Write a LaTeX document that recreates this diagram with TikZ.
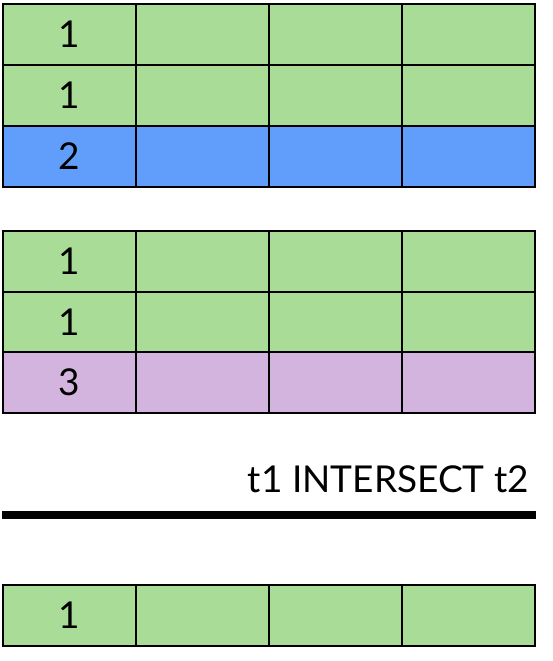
\documentclass[tikz,border=0pt]{standalone}
\usepackage{fontspec}
\setmainfont{Lato}
\definecolor{cgreen}{HTML}{A9DC96}
\definecolor{cblue}{HTML}{619EFB}
\definecolor{cpurple}{HTML}{D2B4DE}
\begin{document}
\begin{tikzpicture}[x=1pt,y=-1pt,
  cell/.style={draw=black,line width=2pt,outer sep=0pt,minimum width=133pt,minimum height=#1,inner sep=0pt,anchor=north west,font=\fontsize{37}{40}\selectfont},
  cell/.default=61pt,
]
\useasboundingbox (0,0) rectangle (553,661);
% table 1
\foreach \r/\y/\c/\v in {a/4/cgreen/1,b/65/cgreen/1,c/126/cblue/2}{
  \node[cell,fill=\c] (t1\r0) at (3,\y) {\v};
  \node[cell,fill=\c] (t1\r1) at (136,\y) {};
  \node[cell,fill=\c] (t1\r2) at (269,\y) {};
  \node[cell,fill=\c] (t1\r3) at (402,\y) {};
}
% table 2
\foreach \r/\y/\c/\v in {a/231/cgreen/1,b/291.5/cgreen/1,c/352/cpurple/3}{
  \node[cell=60.5pt,fill=\c] (t2\r0) at (3,\y) {\v};
  \node[cell=60.5pt,fill=\c] (t2\r1) at (136,\y) {};
  \node[cell=60.5pt,fill=\c] (t2\r2) at (269,\y) {};
  \node[cell=60.5pt,fill=\c] (t2\r3) at (402,\y) {};
}
% label and rule
\node[anchor=base east,inner sep=0pt,font=\fontsize{37}{40}\selectfont] (lbl) at (529,492) {t1 INTERSECT t2};
\coordinate (ls) at (2,514.5);
\coordinate (le) at (536,514.5);
\draw[line width=8pt] (ls) -- (le);
% result
\node[cell,fill=cgreen] (r0) at (3,585) {1};
\node[cell,fill=cgreen] (r1) at (136,585) {};
\node[cell,fill=cgreen] (r2) at (269,585) {};
\node[cell,fill=cgreen] (r3) at (402,585) {};
\end{tikzpicture}
\end{document}
